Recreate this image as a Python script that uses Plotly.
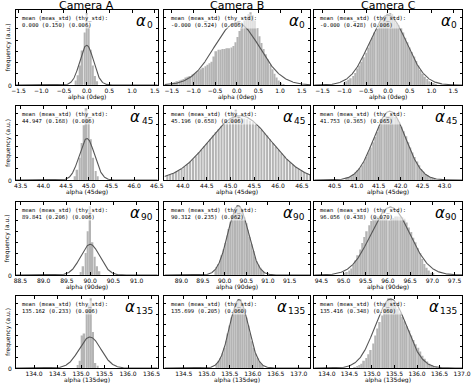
import numpy as np
import plotly.graph_objects as go

W, H = 474, 383

cameras = ["Camera A", "Camera B", "Camera C"]
angle_labels = ["0", "45", "90", "135"]
axis_titles = ["alpha (0deg)", "alpha (45deg)", "alpha (90deg)", "alpha (135deg)"]

# statistics printed in each panel (rows = angle 0,45,90,135)
mean_A = [0.000, 44.947, 89.841, 135.162]
meas_std_A = [0.150, 0.168, 0.206, 0.233]
thy_std_A = [0.006, 0.006, 0.006, 0.006]
mean_B = [-0.000, 45.196, 90.312, 135.699]
meas_std_B = [0.524, 0.658, 0.235, 0.205]
thy_std_B = [0.006, 0.006, 0.062, 0.060]
mean_C = [-0.000, 41.753, 96.056, 135.416]
meas_std_C = [0.428, 0.365, 0.438, 0.348]
thy_std_C = [0.006, 0.065, 0.070, 0.060]

# gaussian curves as drawn: centre and peak height (a.u.)
center_A = [0.0, 44.96, 90.0, 135.19]
center_B = [0.0, 45.196, 90.312, 135.699]
center_C = [0.0, 41.753, 96.056, 135.416]
peak_A = [53, 56, 42, 43]
peak_B = [83, 87, 95, 95]
peak_C = [93, 93, 93, 96]

# histograms: first bin centre, bin width, heights (a.u.)
A0_first, A0_width = -0.236, 0.047
A0_h = [6, 13, 26, 46, 70, 96, 80, 47, 26, 12, 5]
A45_first, A45_width = 44.70, 0.05
A45_h = [5, 14, 30, 50, 74, 97, 85, 55, 30, 12, 5]
A90_first, A90_width = 89.80, 0.05
A90_h = [4, 12, 30, 60, 94, 45, 25, 12, 5]
A135_first, A135_width = 134.93, 0.047
A135_h = [4, 10, 45, 48, 80, 88, 97, 50, 7, 3]

B0_first, B0_width = -1.475, 0.05
B0_h = [3, 4, 5, 6, 7, 8, 10, 11, 12, 14, 15, 17, 19, 21, 23, 25, 27, 29, 31, 38,
        45, 47, 47, 48, 48, 49, 49, 50, 52, 57, 64, 72, 80, 86, 91, 94, 97, 93, 86, 76,
        65, 56, 48, 41, 34, 27, 21, 15, 10, 6, 3, 1]
B45_first, B45_width = 43.67, 0.06
B45_h = [6, 7, 9, 11, 13, 15, 18, 21, 25, 28, 32, 37, 41, 46, 50, 55, 60, 65, 69, 73,
         77, 80, 83, 92, 95, 86, 84, 83, 82, 80, 78, 75, 72, 68, 64, 60, 55, 50, 45, 41,
         36, 32, 28, 24, 21, 18, 15, 13, 11, 9, 7]
B90_first, B90_width = 89.78, 0.04
B90_h = [7, 11, 15, 20, 27, 35, 44, 54, 63, 73, 81, 88, 93, 96, 94, 91, 86, 79, 71, 62,
         52, 42, 33, 25, 19, 14, 10, 6, 4]
B135_first, B135_width = 135.22, 0.04
B135_h = [6, 10, 14, 20, 28, 38, 48, 59, 70, 80, 88, 93, 96, 95, 89, 80, 70, 59, 48, 37,
          28, 20, 14, 9, 6, 4]

C0_first, C0_width = -1.0, 0.05
C0_h = [3, 5, 7, 9, 12, 16, 22, 26, 31, 37, 43, 50, 57, 63, 70, 75, 80, 85, 89, 93,
        95, 96, 94, 88, 83, 80, 76, 70, 63, 57, 50, 44, 38, 32, 26, 20, 15, 11, 8, 5,
        3, 2, 1]
C45_first, C45_width = 40.775, 0.05
C45_h = [3, 4, 5, 7, 10, 13, 16, 20, 25, 31, 37, 44, 51, 58, 65, 72, 78, 83, 86, 86,
         86, 86, 85, 82, 78, 72, 66, 59, 51, 44, 37, 31, 25, 20, 15, 11, 8, 6, 4, 3, 2]
C90_first, C90_width = 95.025, 0.05
C90_h = [2, 4, 6, 9, 14, 20, 27, 35, 44, 52, 60, 68, 74, 77, 79, 80, 80, 80, 79, 77,
         75, 76, 78, 80, 80, 80, 79, 77, 72, 65, 59, 51, 45, 37, 30, 22, 15, 10, 6, 3, 2]
C135_first, C135_width = 134.625, 0.05
C135_h = [1, 2, 4, 6, 10, 14, 19, 25, 34, 45, 55, 64, 73, 83, 92, 97, 96, 92, 88, 82,
          77, 71, 65, 58, 52, 45, 39, 33, 28, 23, 17, 13, 9, 6, 4, 2, 1]

# ---------------------------------------------------------------
stats = [
    (mean_A, meas_std_A, thy_std_A, center_A, peak_A),
    (mean_B, meas_std_B, thy_std_B, center_B, peak_B),
    (mean_C, meas_std_C, thy_std_C, center_C, peak_C),
]
hists = [
    [(A0_first, A0_width, A0_h), (A45_first, A45_width, A45_h),
     (A90_first, A90_width, A90_h), (A135_first, A135_width, A135_h)],
    [(B0_first, B0_width, B0_h), (B45_first, B45_width, B45_h),
     (B90_first, B90_width, B90_h), (B135_first, B135_width, B135_h)],
    [(C0_first, C0_width, C0_h), (C45_first, C45_width, C45_h),
     (C90_first, C90_width, C90_h), (C135_first, C135_width, C135_h)],
]

# layout (pixel boxes of panels and x ranges)
col_px = [(12, 158), (165, 315), (319, 471)]
row_px = [(10, 85), (106, 180), (202, 275), (296, 368)]
xranges = [
    [(-1.564, 1.564), (43.39, 46.52), (88.40, 91.45), (133.61, 136.63)],
    [(-1.67, 1.70), (43.61, 46.68), (88.61, 91.98), (134.08, 137.25)],
    [(-1.69, 1.70), (40.035, 43.40), (94.34, 97.67), (133.72, 137.00)],
]

BAR_COLOR = "#b4b4b4"
LINE_COLOR = "#585858"
FONT = "DejaVu Sans"
MONO = "DejaVu Sans Mono"

fig = go.Figure()
layout = dict(
    width=W, height=H, margin=dict(l=0, r=0, t=0, b=0),
    paper_bgcolor="white", plot_bgcolor="white", showlegend=False,
    barmode="overlay",
)
annotations = []

for r in range(4):
    for c in range(3):
        k = r * 3 + c + 1
        sfx = "" if k == 1 else str(k)
        xa, ya = "x" + sfx, "y" + sfx
        first, width, h = hists[c][r]
        centers = [first + i * width for i in range(len(h))]
        fig.add_trace(go.Bar(
            x=centers, y=h, width=width * 0.72,
            marker=dict(color=BAR_COLOR, line=dict(width=0)),
            xaxis=xa, yaxis=ya, hoverinfo="skip"))
        mean, sd, thy, ctr, pk = (s[r] for s in stats[c])
        lo, hi = xranges[c][r]
        xs = np.linspace(lo, hi, 400)
        ys = pk * np.exp(-(xs - ctr) ** 2 / (2 * sd ** 2))
        fig.add_trace(go.Scatter(
            x=xs, y=ys, mode="lines",
            line=dict(color=LINE_COLOR, width=1.1),
            xaxis=xa, yaxis=ya, hoverinfo="skip"))

        x0, x1 = col_px[c]
        y0, y1 = row_px[r]
        layout["xaxis" + sfx] = dict(
            domain=[x0 / W, x1 / W], anchor=ya, range=[lo, hi],
            dtick=0.5, tick0=0, tickformat=".1f",
            ticks="inside", ticklen=3, tickwidth=0.6, tickcolor="black",
            showline=True, linecolor="black", linewidth=0.8, mirror="ticks",
            showgrid=False, zeroline=False,
            tickfont=dict(size=6, family=FONT, color="black"),
        )
        layout["yaxis" + sfx] = dict(
            domain=[1 - y1 / H, 1 - y0 / H], anchor=xa, range=[0, 100],
            dtick=15, ticks="inside", ticklen=2, tickwidth=0.6, tickcolor="black",
            showline=True, linecolor="black", linewidth=0.8, mirror="ticks",
            showgrid=False, zeroline=False, showticklabels=False,
        )
        # stats text
        annotations.append(dict(
            xref=xa + " domain", yref=ya + " domain", x=0.035, y=0.95,
            xanchor="left", yanchor="top", showarrow=False, align="left",
            text=f"mean (meas_std) (thy_std):<br>{mean:.3f} ({sd:.3f}) ({thy:.3f})",
            font=dict(size=5.5, family=MONO, color="black"),
            bgcolor="rgba(255,255,255,0.6)", borderpad=0,
        ))
        # alpha label: italic alpha + subscript angle
        sub = angle_labels[r]
        sub_right = x1 - 3
        annotations.append(dict(
            xref="paper", yref="paper", x=sub_right / W, y=1 - (y0 + 14.5) / H,
            xanchor="right", yanchor="middle", showarrow=False,
            text=sub, font=dict(size=9, family=FONT, color="black"),
        ))
        annotations.append(dict(
            xref="paper", yref="paper",
            x=(sub_right - 5.9 * len(sub) - 0.8) / W, y=1 - (y0 + 11) / H,
            xanchor="right", yanchor="middle", showarrow=False,
            text="α", font=dict(size=15, family=FONT, color="black", style="italic"),
        ))
        # x axis title
        annotations.append(dict(
            xref="paper", yref="paper", x=(x0 + x1) / 2 / W,
            y=1 - (y1 + 12) / H,
            xanchor="center", yanchor="middle", showarrow=False,
            text=axis_titles[r], font=dict(size=6, family=FONT, color="black"),
        ))
        if c == 0:
            annotations.append(dict(
                xref="paper", yref="paper", x=(x0 - 2) / W, y=1 - y1 / H,
                xanchor="right", yanchor="middle", showarrow=False,
                text="0", font=dict(size=6, family=FONT, color="black"),
            ))
            annotations.append(dict(
                xref="paper", yref="paper", x=4 / W, y=1 - (y0 + y1) / 2 / H,
                xanchor="center", yanchor="middle", showarrow=False, textangle=-90,
                text="frequency (a.u.)", font=dict(size=6, family=FONT, color="black"),
            ))

for c in range(3):
    x0, x1 = col_px[c]
    annotations.append(dict(
        xref="paper", yref="paper", x=(x0 + x1) / 2 / W, y=1 - 5.5 / H,
        xanchor="center", yanchor="middle", showarrow=False,
        text=cameras[c], font=dict(size=11, family=FONT, color="black"),
    ))

layout["annotations"] = annotations
fig.update_layout(**layout)
fig.write_html(
    "out.html",
    config={"displayModeBar": False},
    post_script="document.body.style.margin='0';document.body.style.padding='0';",
)
